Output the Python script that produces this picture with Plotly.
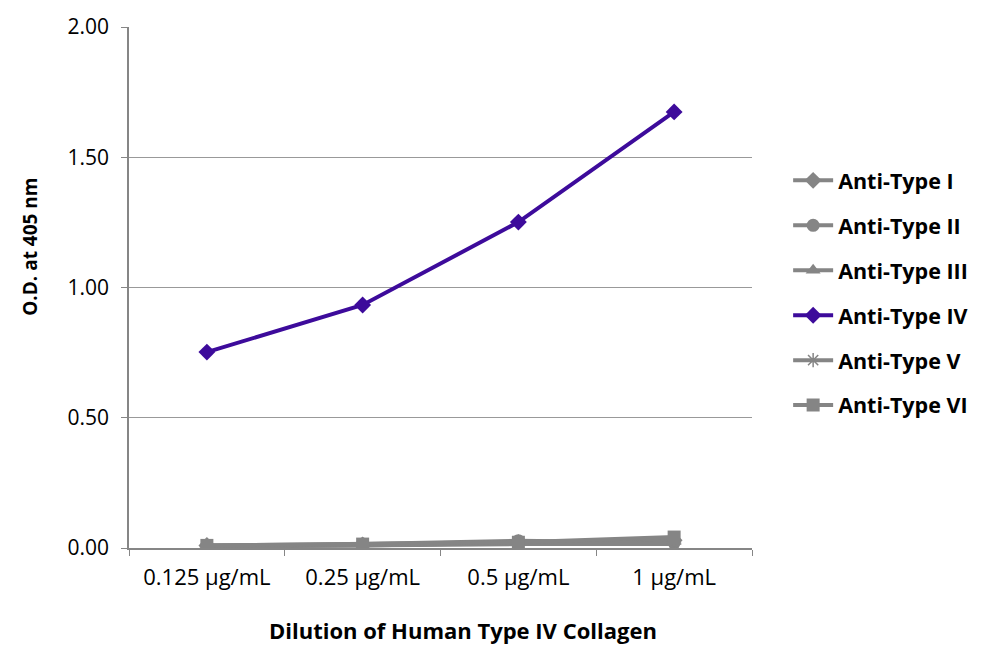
import plotly.graph_objects as go

categories = ["0.125 µg/mL", "0.25 µg/mL", "0.5 µg/mL", "1 µg/mL"]
series_names = ["Anti-Type I", "Anti-Type II", "Anti-Type III", "Anti-Type IV", "Anti-Type V", "Anti-Type VI"]
type_i = [0.010, 0.012, 0.020, 0.030]
type_ii = [0.010, 0.015, 0.028, 0.020]
type_iii = [0.006, 0.010, 0.020, 0.035]
type_iv = [0.752, 0.933, 1.251, 1.674]
type_v = [0.005, 0.010, 0.015, 0.015]
type_vi = [0.010, 0.015, 0.022, 0.042]

values = [type_i, type_ii, type_iii, type_iv, type_v, type_vi]
symbols = ["diamond", "circle", "triangle-up", "diamond", "asterisk-open", "square"]
colors = ["#858585", "#858585", "#858585", "#3d0b9b", "#858585", "#858585"]

fig = go.Figure()
for i, (name, vals) in enumerate(zip(series_names, values)):
    fig.add_trace(go.Scatter(
        x=categories, y=vals, name="<b>" + name + "</b>", mode="lines+markers",
        line=dict(color=colors[i], width=4),
        marker=dict(symbol=symbols[i], size=13 if symbols[i] != "asterisk-open" else 12,
                    color=colors[i], line=dict(color=colors[i], width=1.5 if symbols[i] == "asterisk-open" else 0)),
        legendgroup=name,
    ))

font = "Open Sans, Lato, sans-serif"
fig.update_layout(
    width=1000, height=662,
    margin=dict(l=121, r=256, t=19, b=122),
    paper_bgcolor="white", plot_bgcolor="white",
    font=dict(family=font, size=20, color="black"),
    xaxis=dict(
        type="category", range=[-0.5, 3.5], tickson="boundaries", automargin=False,
        ticks="outside", ticklen=6, tickcolor="#868686",
        showline=True, linecolor="#868686", linewidth=1.5, showgrid=False,
        tickfont=dict(size=22, family=font), ticklabelstandoff=9,
    ),
    yaxis=dict(
        range=[0, 2], dtick=0.5, tickformat=".2f", automargin=False,
        ticks="outside", ticklen=6, tickcolor="#868686",
        showline=True, linecolor="#868686", linewidth=1.5,
        showgrid=True, gridcolor="#999999", gridwidth=1, zeroline=False,
        tickfont=dict(size=21, family=font), ticklabelstandoff=8,
    ),
    legend=dict(
        x=1.058, y=0.745, xanchor="left", yanchor="top",
        font=dict(size=21.5, family=font, color="black"),
        tracegroupgap=14, itemwidth=40, bgcolor="rgba(0,0,0,0)",
    ),
    annotations=[
        dict(text="<b>Dilution of Human Type IV Collagen</b>", xref="paper", yref="paper",
             x=0.536, y=-0.157, xanchor="center", yanchor="middle", showarrow=False,
             font=dict(size=22, family=font, color="black")),
        dict(text="<b>O.D. at 405 nm</b>", xref="paper", yref="paper", textangle=-90,
             x=-0.159, y=0.578, xanchor="center", yanchor="middle", showarrow=False,
             font=dict(size=19, family=font, color="black")),
    ],
)

fig.write_html("out.html")
